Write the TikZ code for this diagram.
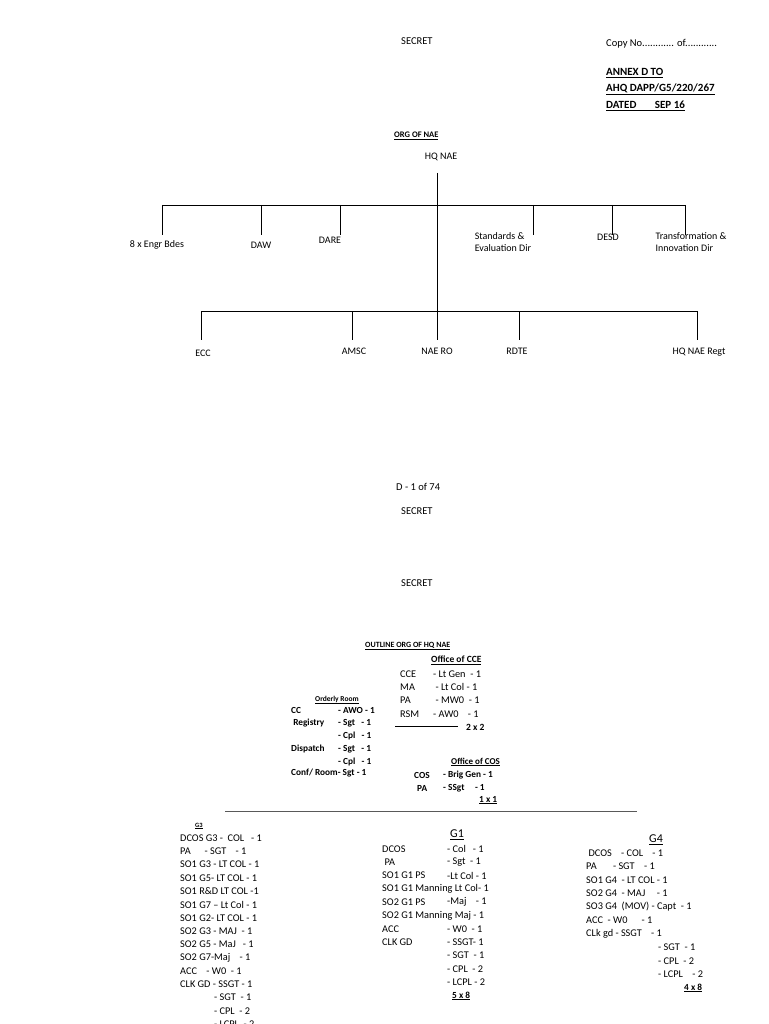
\documentclass[tikz,border=0pt]{standalone}
\usepackage{fontspec}
\setmainfont{Carlito}
\begin{document}
\begin{tikzpicture}[x=1pt,y=-1pt,
  t/.style={anchor=west,inner sep=0pt,font=\fontsize{10.5}{12}\selectfont},
  ts/.style={anchor=west,inner sep=0pt,font=\fontsize{10.3}{11}\selectfont},
  tb/.style={anchor=west,inner sep=0pt,font=\fontsize{9.3}{10}\selectfont\bfseries},
  lbl/.style={inner sep=1pt,font=\fontsize{10}{11.5}\selectfont,align=left},
  ln/.style={line width=0.7pt}]
\useasboundingbox (0,0) rectangle (768,1024);
\fill[white] (0,0) rectangle (768,1024);
% header
\node[t] (s1) at (401,41) {SECRET};
\node[t] (cp) at (606,44) {Copy No............ of............};
\node[t,font=\fontsize{11}{12}\selectfont\bfseries] (an1) at (606,73) {\underline{ANNEX D TO}};
\node[t,font=\fontsize{11}{12}\selectfont\bfseries] (an2) at (606,89) {\underline{AHQ DAPP/G5/220/267}};
\node[t,font=\fontsize{11}{12}\selectfont\bfseries] (an3) at (606,106) {\underline{DATED\quad\ \ \ SEP 16}};
\node[t,font=\fontsize{8.5}{9}\selectfont\bfseries] (org) at (394,136) {\underline{ORG OF NAE}};
\node[lbl] (hq) at (441,157) {HQ NAE};
% top chart
\draw[ln] (437,173) -- (437,311);
\draw[ln] (162,205) -- (685,205);
\foreach \x in {162,261,340,533,612,685} \draw[ln] (\x,205) -- (\x,235);
\node[lbl] (n1) at (157,245) {8 x Engr Bdes};
\node[lbl] (n2) at (261,245) {DAW};
\node[lbl] (n3) at (330,240) {DARE};
\node[lbl] (n4) at (503,242) {Standards \&\\Evaluation Dir};
\node[lbl] (n5) at (608,237) {DESD};
\node[lbl] (n6) at (691,242) {Transformation \&\\Innovation Dir};
\draw[ln] (201,311) -- (697,311);
\foreach \x in {201,352,437,519,697} \draw[ln] (\x,311) -- (\x,340);
\node[lbl] (m1) at (203,353) {ECC};
\node[lbl] (m2) at (354,351) {AMSC};
\node[lbl] (m3) at (437,351) {NAE RO};
\node[lbl] (m4) at (517,351) {RDTE};
\node[lbl] (m5) at (699,352) {HQ NAE Regt};
\node[t] (pg) at (396,487) {D - 1 of 74};
\node[t] (s2) at (401,511) {SECRET};
\node[t] (s3) at (401,583) {SECRET};
% lower
\node[t,font=\fontsize{8}{9}\selectfont\bfseries] (out) at (365,646) {\underline{OUTLINE ORG OF HQ NAE}};
\node[t,font=\fontsize{9.5}{10}\selectfont\bfseries] (oc) at (431,660) {\underline{Office of CCE}};
\foreach \a/\b/\y in {CCE/- Lt Gen\ \ - 1/674, MA/\ - Lt Col\ - 1/687, PA/\ - MW0\ \ - 1/700, RSM/- AW0\ \ \ \ - 1/714}{
  \node[ts] at (400,\y) {\a};
  \node[ts] at (433,\y) {\b};}
\draw[ln] (395,726) -- (458,726);
\node[t,font=\fontsize{9.5}{10}\selectfont\bfseries] (cce) at (466,727) {2 x 2};
\node[t,font=\fontsize{7.5}{8}\selectfont\bfseries] (or) at (315,700) {\underline{Orderly Room}};
\foreach \a/\b/\y in {CC/- AWO - 1/710, \ Registry/- Sgt\ \ \ - 1/723, /- Cpl\ \ \ - 1/736, Dispatch/- Sgt\ \ \ - 1/749, /- Cpl\ \ \ - 1/762}{
  \node[tb] at (291,\y) {\a};
  \node[tb] at (338,\y) {\b};}
\node[tb] (cr) at (291,773) {Conf/ Room- Sgt - 1};
\node[t,font=\fontsize{9}{10}\selectfont\bfseries] (ocos) at (451,762) {\underline{Office of COS}};
\node[tb] at (414,775) {COS};
\node[tb] at (443,775) {- Brig Gen - 1};
\node[tb] at (417,788) {PA};
\node[tb] at (443,788) {- SSgt\ \ \ \ \ - 1};
\node[tb] (cos) at (479,800) {\underline{1 x 1}};
\draw[line width=1pt,gray!70!black] (225,811) -- (637,811);
% G3
\node[ts,font=\fontsize{6.5}{7}\selectfont\bfseries] (g3) at (195,826) {\underline{G3}};
\foreach \s [count=\i from 0] in {DCOS G3 -\ \ COL\ \ \ - 1, PA\ \ \ \ \ \ - SGT\ \ \ \ - 1, SO1 G3 - LT COL - 1, SO1 G5- LT COL - 1, SO1 R\&D LT COL -1, SO1 G7 -- Lt Col\ - 1, SO1 G2- LT COL - 1, SO2 G3 - MAJ\ \ - 1, SO2 G5 - MaJ\ \ \ - 1, SO2 G7-Maj\ \ \ \ - 1, ACC\ \ \ \ - W0\ \ - 1, CLK GD\ - SSGT - 1}
  \node[ts] at (180,{838+13.3*\i}) {\s};
\foreach \s [count=\i from 12] in {- SGT\ \ - 1, - CPL\ \ - 2, - LCPL\ \ - 2}
  \node[ts] at (214,{838+13.3*\i}) {\s};
% G1
\node[t,font=\fontsize{12}{13}\selectfont] (g1) at (450,835) {\underline{G1}};
\foreach \a/\b [count=\i from 0] in {DCOS/- Col\ \ \ - 1, \ PA/- Sgt\ \ - 1, SO1 G1 PS/-Lt Col\ - 1, SO1 G1 Manning Lt Col- 1/, SO2 G1 PS/-Maj\ \ \ \ - 1, SO2 G1 Manning Maj\ - 1/, ACC/- W0\ \ - 1, CLK GD/- SSGT-\ 1, /- SGT\ \ - 1, /- CPL\ \ - 2, /- LCPL\ - 2}{
  \node[ts] at (382,{849+13.3*\i}) {\a};
  \node[ts] at (447,{849+13.3*\i}) {\b};}
\node[tb] (g1t) at (452,996) {\underline{5 x 8}};
% G4
\node[t,font=\fontsize{12}{13}\selectfont] (g4) at (649,840) {\underline{G4}};
\foreach \s [count=\i from 0] in {\ DCOS\ \ \ \ - COL\ \ \ \ - 1, PA\ \ \ \ \ \ \ - SGT\ \ \ \ - 1, SO1 G4\ \ - LT COL\ - 1, SO2 G4\ \ - MAJ\ \ \ \ \ - 1, SO3 G4\ \ (MOV) - Capt\ \ - 1, ACC\ \ - W0\ \ \ \ \ \ - 1, CLk gd - SSGT\ \ \ \ - 1}
  \node[ts] at (586,{853+13.5*\i}) {\s};
\foreach \s [count=\i from 7] in {- SGT\ \ - 1, - CPL\ \ - 2, - LCPL\ \ \ \ - 2}
  \node[ts] at (658,{853+13.5*\i}) {\s};
\node[tb] (g4t) at (684,988) {\underline{4 x 8}};
\end{tikzpicture}
\end{document}
